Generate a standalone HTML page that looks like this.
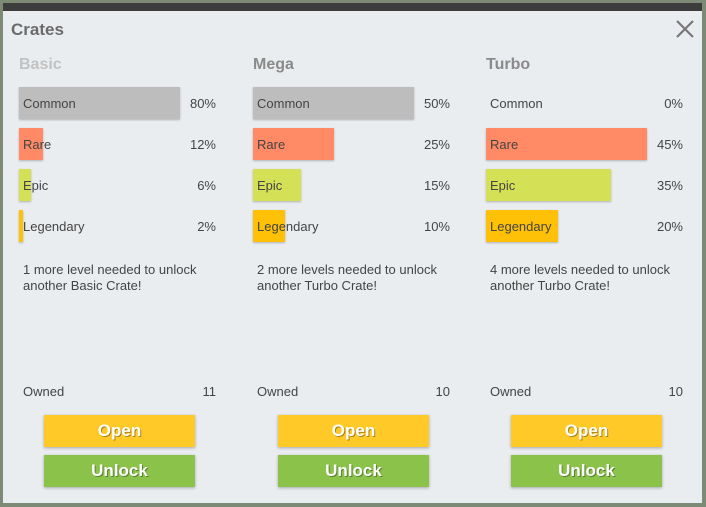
<!DOCTYPE html>
<html><head><style>
body{margin:0;width:706px;height:507px;background:#7d8b76;position:relative;overflow:hidden;font-family:"Liberation Sans",sans-serif}
#top{position:absolute;left:3px;top:3px;width:699px;height:8px;background:#3d3d3d}
#panel{position:absolute;left:3px;top:11px;width:699px;height:492px;background:#eaedf0}
.a{position:absolute;white-space:nowrap}
.bar{position:absolute;height:32px;box-shadow:0 1px 2px rgba(0,0,0,.25)}
.lbl{font-size:13px;color:#444}
.h{font-size:16px;font-weight:bold}
.btn{position:absolute;width:151px;height:32px;color:#fff;font-weight:bold;font-size:17px;text-align:center;line-height:32px;text-shadow:1px 1px 0 rgba(0,0,0,.35);box-shadow:0 1px 3px rgba(0,0,0,.3)}
</style></head><body>
<div id="top"></div><div id="panel"></div>
<div class="a" style="left:11px;top:20px;font-size:17px;font-weight:bold;color:#6b6b6b">Crates</div>
<svg class="a" style="left:675px;top:19px" width="20" height="20"><path d="M2 2L18 18M18 2L2 18" stroke="#777" stroke-width="2.2"/></svg>
<div id="cols"></div>
<script>
const cols=[["Basic","#c2c2c2",[80,12,6,2],"1 more level needed to unlock","another Basic Crate!",11],
["Mega","#8a8a8a",[50,25,15,10],"2 more levels needed to unlock","another Turbo Crate!",10],
["Turbo","#8a8a8a",[0,45,35,20],"4 more levels needed to unlock","another Turbo Crate!",10]];
const names=["Common","Rare","Epic","Legendary"],clr=["#bdbdbd","#ff8a65","#d4e157","#ffc107"];
let h="";
cols.forEach((c,i)=>{const x=19+Math.round(i*233.5),mx=Math.max(...c[2]);
h+=`<div class="a h" style="left:${x}px;top:56px;color:${c[1]}">${c[0]}</div>`;
c[2].forEach((v,j)=>{const y=87+j*41,w=Math.round(v/mx*161);
if(w>0)h+=`<div class="bar" style="left:${x}px;top:${y}px;width:${w}px;background:${clr[j]}"></div>`;
h+=`<div class="a lbl" style="left:${x+4}px;top:${y+9}px">${names[j]}</div><div class="a lbl" style="left:${x+150}px;width:47px;text-align:right;top:${y+9}px">${v}%</div>`;});
h+=`<div class="a lbl" style="left:${x+4}px;top:262px;line-height:16px">${c[3]}<br>${c[4]}</div>`;
h+=`<div class="a lbl" style="left:${x+4}px;top:384px">Owned</div><div class="a lbl" style="left:${x+150}px;width:47px;text-align:right;top:384px">${c[5]}</div>`;
h+=`<div class="btn" style="left:${x+25}px;top:415px;background:#ffc928">Open</div><div class="btn" style="left:${x+25}px;top:455px;background:#8bc34a">Unlock</div>`;});
document.getElementById("cols").innerHTML=h;
</script>
</body></html>
